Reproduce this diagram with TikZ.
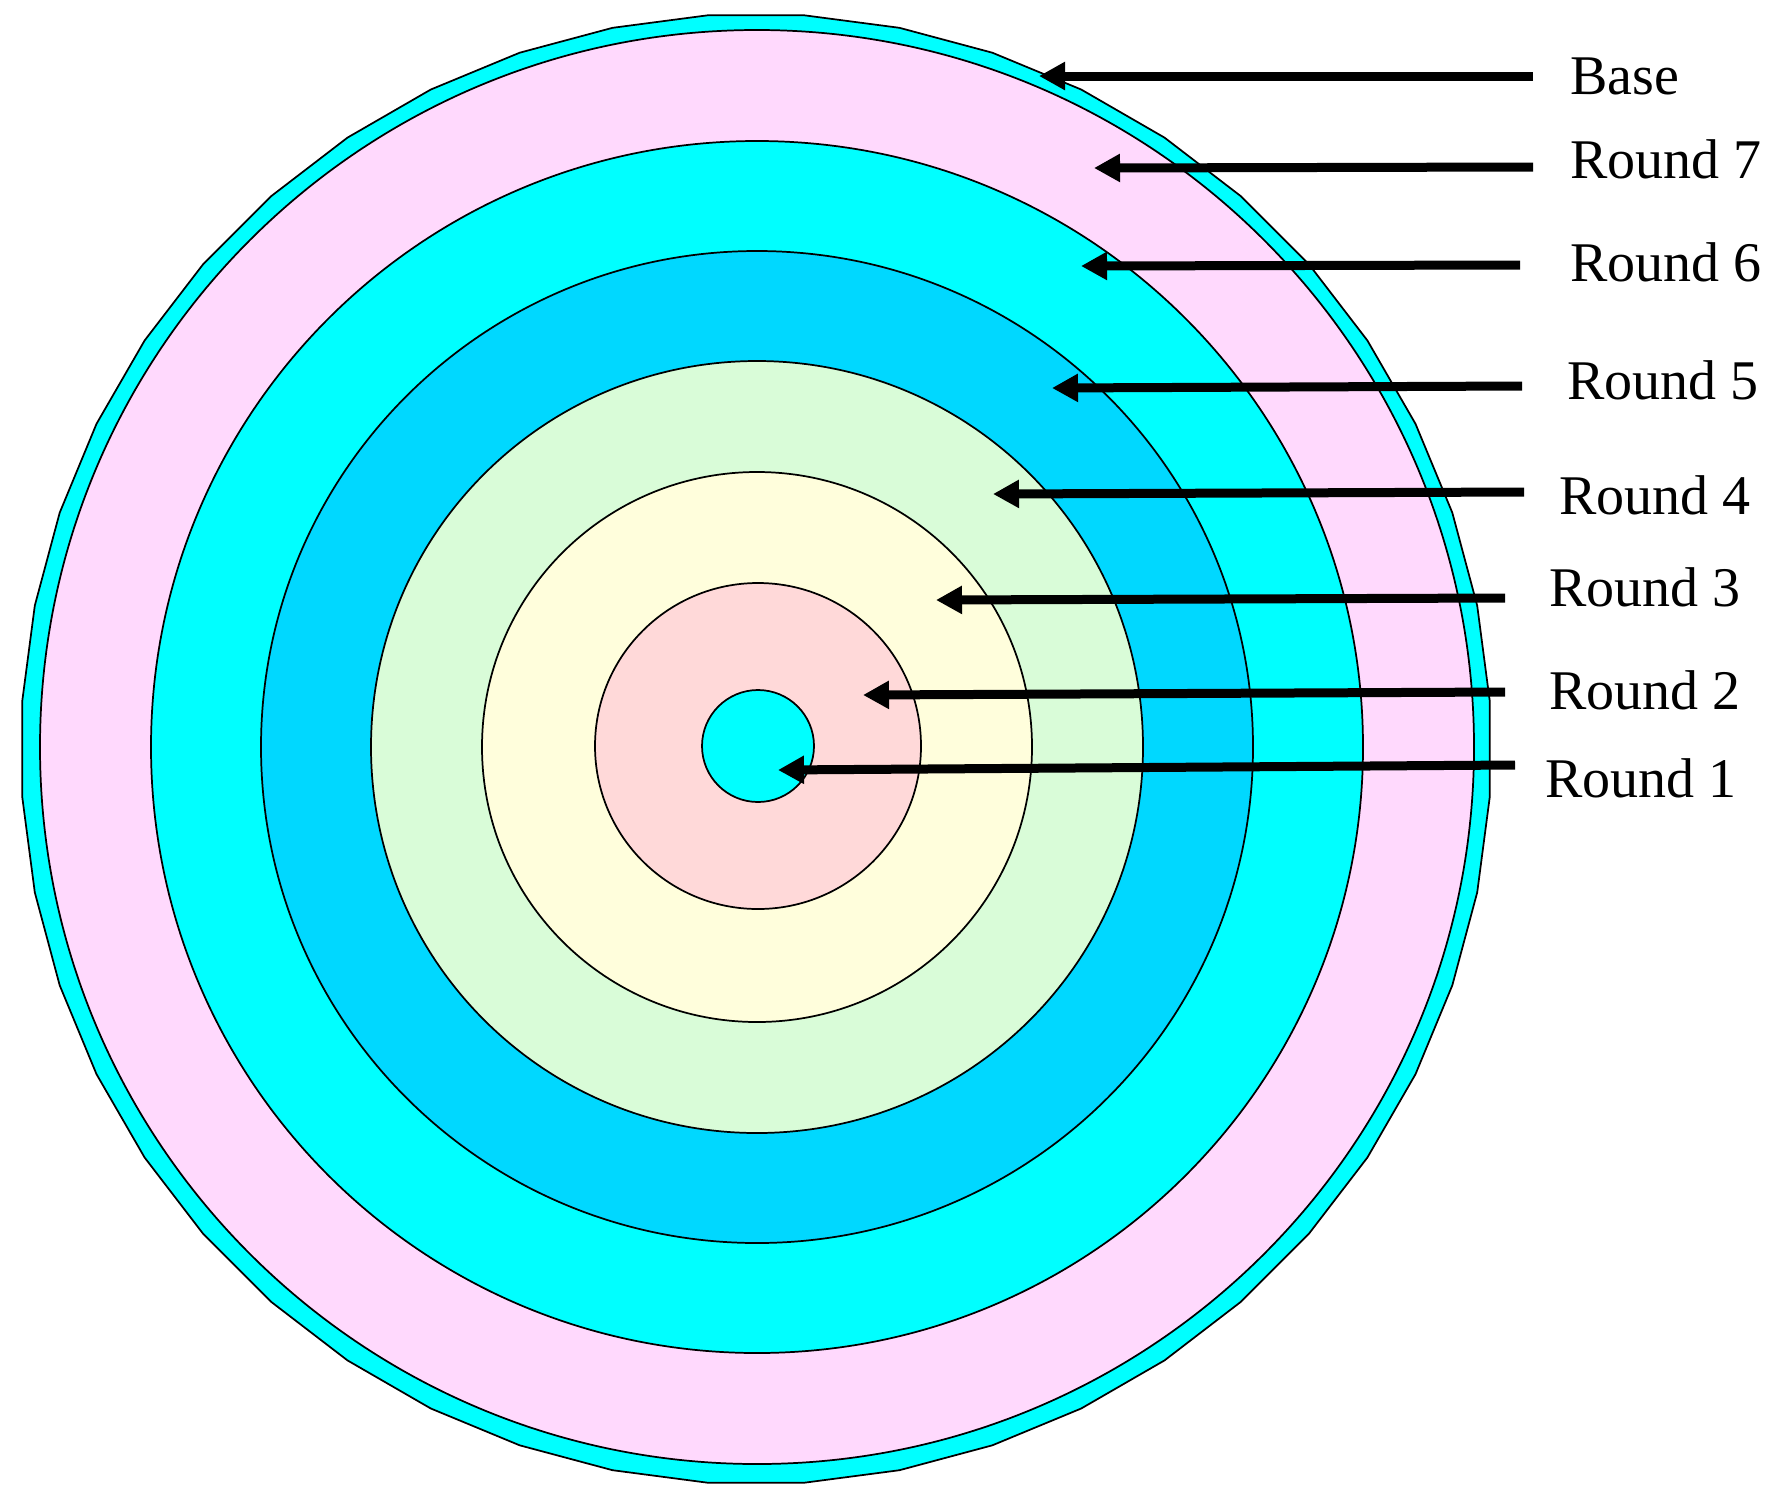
\documentclass[tikz,border=0pt]{standalone}
\usepackage{fontspec}
\setmainfont{Liberation Serif}
\usetikzlibrary{arrows.meta,shapes.geometric}

\definecolor{ringcyan}{RGB}{0,255,255}
\definecolor{ringpink}{RGB}{255,217,253}
\definecolor{ringblue}{RGB}{0,216,255}
\definecolor{ringgreen}{RGB}{217,252,216}
\definecolor{ringyellow}{RGB}{255,254,220}
\definecolor{ringrose}{RGB}{255,217,217}

\tikzset{every picture/.style={line width=0.75pt}}
\tikzset{
  ring/.style={draw=black, line width=1.3pt},
  pointer/.style={line width=6.75pt, -{Triangle[length=19.5pt,width=20pt]}},
  tag/.style={anchor=west, inner sep=0pt, font=\fontsize{42}{50}\selectfont}
}

\begin{document}
\begin{tikzpicture}[x=0.75pt,y=0.75pt,yscale=-1,xscale=1]
\useasboundingbox (0,0) rectangle (1787,1504);

%Shape: Polygon [id:base]
\node[ring, fill=ringcyan, regular polygon, regular polygon sides=48, minimum size=1103pt, inner sep=0pt] (base) at (756,749) {};
%Shape: Circle [id:round7]
\draw[ring, fill=ringpink] (757,747) circle (717);
%Shape: Circle [id:round6]
\draw[ring, fill=ringcyan] (757,747) circle (606);
%Shape: Circle [id:round5]
\draw[ring, fill=ringblue] (757,747) circle (496);
%Shape: Circle [id:round4]
\draw[ring, fill=ringgreen] (757,747) circle (386);
%Shape: Circle [id:round3]
\draw[ring, fill=ringyellow] (757,747) circle (275);
%Shape: Circle [id:round2]
\draw[ring, fill=ringrose] (758,746) circle (163);
%Shape: Circle [id:round1]
\draw[ring, fill=ringcyan] (758,746) circle (56);

% Text Node
\node[tag] (lbase) at (1570,76) {Base};
% Text Node
\node[tag] (l7) at (1570,159) {Round 7};
% Text Node
\node[tag] (l6) at (1570,262) {Round 6};
% Text Node
\node[tag] (l5) at (1567,380) {Round 5};
% Text Node
\node[tag] (l4) at (1559,495) {Round 4};
% Text Node
\node[tag] (l3) at (1549,587) {Round 3};
% Text Node
\node[tag] (l2) at (1549,690) {Round 2};
% Text Node
\node[tag] (l1) at (1545,778) {Round 1};

% arrow ends
\coordinate (sbase) at (1533,76);  \coordinate (tbase) at (1039,76);
\coordinate (s7) at (1533,167);    \coordinate (t7) at (1094,168);
\coordinate (s6) at (1520,265);    \coordinate (t6) at (1081,266);
\coordinate (s5) at (1522,386);    \coordinate (t5) at (1052,388);
\coordinate (s4) at (1524,492);    \coordinate (t4) at (993,494);
\coordinate (s3) at (1505,598);    \coordinate (t3) at (936,600);
\coordinate (s2) at (1505,692);    \coordinate (t2) at (863,695);
\coordinate (s1) at (1515,765);    \coordinate (t1) at (778,770);

%Straight Lines [id:arrowbase]
\draw[pointer] (sbase) -- (tbase);
%Straight Lines [id:arrow7]
\draw[pointer] (s7) -- (t7);
%Straight Lines [id:arrow6]
\draw[pointer] (s6) -- (t6);
%Straight Lines [id:arrow5]
\draw[pointer] (s5) -- (t5);
%Straight Lines [id:arrow4]
\draw[pointer] (s4) -- (t4);
%Straight Lines [id:arrow3]
\draw[pointer] (s3) -- (t3);
%Straight Lines [id:arrow2]
\draw[pointer] (s2) -- (t2);
%Straight Lines [id:arrow1]
\draw[pointer] (s1) -- (t1);

\end{tikzpicture}
\end{document}
